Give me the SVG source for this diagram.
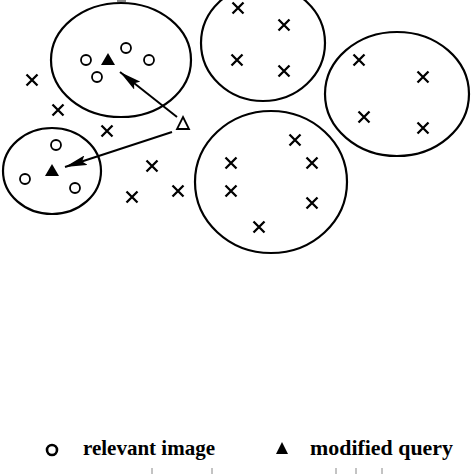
<svg xmlns="http://www.w3.org/2000/svg" width="474" height="474" viewBox="0 0 474 474">
<defs>
<style>
.cl{fill:none;stroke:#000;stroke-width:2.2}
.x{stroke:#000;stroke-width:2.3;fill:none}
.o{fill:none;stroke:#000;stroke-width:1.8}
.lbl{font-family:"Liberation Serif","Times New Roman",serif;font-weight:bold;font-size:21px;fill:#000}
.tick{stroke:#888;stroke-width:1}
</style>
<path id="cr" d="M-5.5,-5.5L5.5,5.5M5.5,-5.5L-5.5,5.5"/>
<marker id="ah" viewBox="0 0 22 10" refX="22" refY="5" markerWidth="22" markerHeight="10" markerUnits="userSpaceOnUse" orient="auto">
<path d="M0,0L22,5L0,10L4,5Z" fill="#000"/>
</marker>
</defs>
<rect width="474" height="474" fill="#fff"/>
<rect x="117" y="0" width="9" height="2" fill="#888"/>

<g id="cluster-topleft">
<ellipse class="cl" cx="121" cy="60" rx="70" ry="57"/>
<circle class="o" cx="86" cy="60" r="5"/>
<circle class="o" cx="126" cy="48" r="5"/>
<circle class="o" cx="149" cy="60" r="5"/>
<circle class="o" cx="97" cy="77" r="5"/>
<path d="M108,53L115,65L101,65Z" fill="#000"/>
</g>

<g id="cluster-bottomleft">
<ellipse class="cl" cx="52" cy="171" rx="49" ry="43"/>
<circle class="o" cx="56" cy="145" r="5"/>
<circle class="o" cx="25" cy="179" r="5"/>
<circle class="o" cx="75" cy="188" r="5"/>
<path d="M52,164L59,176L45,176Z" fill="#000"/>
</g>

<g id="cluster-topmiddle">
<ellipse class="cl" cx="263" cy="43" rx="62" ry="58"/>
<use href="#cr" class="x" x="238" y="8"/>
<use href="#cr" class="x" x="284" y="25"/>
<use href="#cr" class="x" x="237" y="60"/>
<use href="#cr" class="x" x="284" y="71"/>
</g>

<g id="cluster-right">
<ellipse class="cl" cx="397" cy="94" rx="72" ry="62"/>
<use href="#cr" class="x" x="359" y="60"/>
<use href="#cr" class="x" x="423" y="77"/>
<use href="#cr" class="x" x="364" y="117"/>
<use href="#cr" class="x" x="423" y="128"/>
</g>

<g id="cluster-bottommiddle">
<ellipse class="cl" cx="271" cy="182" rx="76" ry="71"/>
<use href="#cr" class="x" x="295" y="140"/>
<use href="#cr" class="x" x="231" y="163"/>
<use href="#cr" class="x" x="312" y="163"/>
<use href="#cr" class="x" x="231" y="191"/>
<use href="#cr" class="x" x="312" y="203"/>
<use href="#cr" class="x" x="259" y="227"/>
</g>

<g id="outliers">
<use href="#cr" class="x" x="32" y="80"/>
<use href="#cr" class="x" x="58" y="110"/>
<use href="#cr" class="x" x="107" y="131"/>
<use href="#cr" class="x" x="152" y="166"/>
<use href="#cr" class="x" x="132" y="197"/>
<use href="#cr" class="x" x="178" y="191"/>
</g>

<g id="query">
<path d="M183,117L189,129L177,129Z" fill="#fff" stroke="#000" stroke-width="1.8"/>
</g>

<g id="connectors">
<line x1="177" y1="117" x2="120" y2="72" stroke="#000" stroke-width="2" marker-end="url(#ah)"/>
<line x1="172" y1="132" x2="65" y2="167" stroke="#000" stroke-width="2" marker-end="url(#ah)"/>
</g>

<g id="legend">
<circle cx="52" cy="450" r="5" fill="none" stroke="#000" stroke-width="2.6"/>
<text class="lbl" x="83" y="455" textLength="132" lengthAdjust="spacingAndGlyphs">relevant image</text>
<path d="M282,442L288,454L276,454Z" fill="#000"/>
<text class="lbl" x="310" y="455" textLength="143" lengthAdjust="spacingAndGlyphs">modified query</text>
</g>

<g id="ticks">
<line class="tick" x1="152" y1="468" x2="152" y2="474"/>
<line class="tick" x1="212" y1="468" x2="212" y2="474"/>
<line class="tick" x1="336" y1="468" x2="336" y2="474"/>
<line class="tick" x1="356" y1="468" x2="356" y2="474"/>
<line class="tick" x1="382" y1="468" x2="382" y2="474"/>
</g>
</svg>
